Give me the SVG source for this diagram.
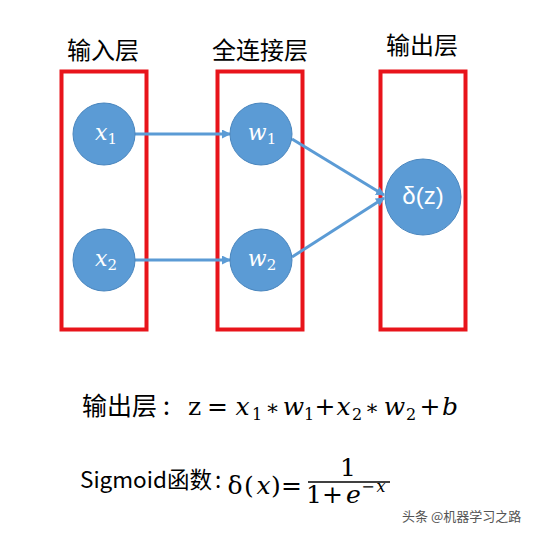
<svg xmlns="http://www.w3.org/2000/svg" width="539" height="534" viewBox="0 0 539 534">
<style>
.box{fill:none;stroke:#E8141B;stroke-width:4}
.node{fill:#5B9BD5;stroke:#4A86BE;stroke-width:1}
.conn{stroke:#5B9BD5;stroke-width:3;fill:none}
.title{font-family:"Noto Sans CJK SC","Noto Sans",sans-serif;font-size:24px;fill:#000;text-anchor:middle}
.lbl{font-family:"DejaVu Serif",serif;font-style:italic;font-size:22px;fill:#fff;text-anchor:middle}
.sub{font-size:15px;font-style:normal}
.math{font-family:"DejaVu Serif",serif;font-size:25px;fill:#000;text-anchor:middle}
.it{font-style:italic}
.sm{font-size:16px}
.ast{font-size:21px}
.cjk{font-family:"Noto Sans CJK SC","Noto Sans",sans-serif;font-size:25px;fill:#000}
.cjk2{font-family:"Noto Sans CJK SC","Noto Sans",sans-serif;font-size:22.5px;fill:#000}
</style>
<defs>
<marker id="ah" markerWidth="9" markerHeight="9" refX="8" refY="4.5" orient="auto" markerUnits="userSpaceOnUse">
<path d="M0,0 L9,4.5 L0,9 z" fill="#5B9BD5"/>
</marker>
</defs>
<rect width="539" height="534" fill="#fff"/>
<g id="layer-input">
<rect class="box" x="61.5" y="71.5" width="85" height="258"/>
<text class="title" x="103" y="59">输入层</text>
</g>
<g id="layer-fc">
<rect class="box" x="217.5" y="71.5" width="85" height="258"/>
<text class="title" x="260" y="59">全连接层</text>
</g>
<g id="layer-output">
<rect class="box" x="380.5" y="71.5" width="85" height="258"/>
<text class="title" x="422" y="54">输出层</text>
</g>
<g id="connectors">
<line class="conn" x1="135" y1="134" x2="230" y2="134" marker-end="url(#ah)"/>
<line class="conn" x1="135" y1="260" x2="230" y2="260" marker-end="url(#ah)"/>
<line class="conn" x1="292" y1="139" x2="384" y2="195" marker-end="url(#ah)"/>
<line class="conn" x1="292" y1="257" x2="384" y2="198" marker-end="url(#ah)"/>
</g>
<g id="node-x1">
<circle class="node" cx="104" cy="134" r="31"/>
<text class="lbl" x="106" y="140">x<tspan class="sub" dy="4">1</tspan></text>
</g>
<g id="node-x2">
<circle class="node" cx="104" cy="260" r="31"/>
<text class="lbl" x="106" y="266">x<tspan class="sub" dy="4">2</tspan></text>
</g>
<g id="node-w1">
<circle class="node" cx="261" cy="134" r="31"/>
<text class="lbl" x="262" y="140">w<tspan class="sub" dy="4">1</tspan></text>
</g>
<g id="node-w2">
<circle class="node" cx="261" cy="260" r="31"/>
<text class="lbl" x="262" y="266">w<tspan class="sub" dy="4">2</tspan></text>
</g>
<g id="node-sigma">
<circle class="node" cx="423" cy="197" r="38"/>
<text x="423" y="204" font-family="Liberation Sans,sans-serif" font-size="24" fill="#fff" text-anchor="middle">δ(z)</text>
</g>
<g id="formula1">
<text class="cjk" x="82" y="415">输出层<tspan x="163">:</tspan></text>
<text class="math" y="415"><tspan x="194.5">z</tspan><tspan x="217.5">=</tspan><tspan class="it" x="242.5">x</tspan><tspan class="sm" x="257" dy="5">1</tspan><tspan class="ast" x="272.5" dy="-5">∗</tspan><tspan class="it" x="293.5">w</tspan><tspan class="sm" x="309" dy="5">1</tspan><tspan x="325" dy="-5">+</tspan><tspan class="it" x="343.5">x</tspan><tspan class="sm" x="357" dy="5">2</tspan><tspan class="ast" x="372" dy="-5">∗</tspan><tspan class="it" x="394.5">w</tspan><tspan class="sm" x="411" dy="5">2</tspan><tspan x="430" dy="-5">+</tspan><tspan class="it" x="450">b</tspan></text>
</g>
<g id="formula2">
<text class="cjk2" x="80" y="488">Sigmoid函数<tspan x="215">:</tspan></text>
<text class="math" y="494"><tspan x="235">δ</tspan><tspan x="249">(</tspan><tspan class="it" x="263.5">x</tspan><tspan x="276">)</tspan><tspan x="291.5">=</tspan></text>
<text class="math" x="348" y="476">1</text>
<line x1="308" y1="482" x2="390" y2="482" stroke="#000" stroke-width="1.5"/>
<text class="math" y="503"><tspan x="314">1</tspan><tspan x="332.5">+</tspan><tspan class="it" x="353.5">e</tspan><tspan class="sm" x="368" dy="-11">−</tspan><tspan class="sm it" x="381">x</tspan></text>
</g>
<text x="402" y="521" font-family="Noto Sans CJK SC,sans-serif" font-size="13" fill="#555">头条 @机器学习之路</text>
</svg>
